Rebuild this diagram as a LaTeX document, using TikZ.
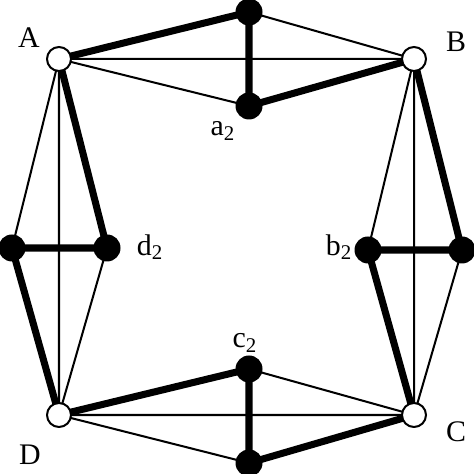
\documentclass[tikz,border=0pt]{standalone}
\usepackage{fontspec}
\setmainfont{Liberation Serif}
\usepackage{tkz-euclide}

\begin{document}
\begin{tikzpicture}[line join=round,
  thickedge/.style={line width=4pt},
  thinedge/.style={line width=1.15pt},
  opendot/.style={line width=1.15pt,fill=white},
  fulldot/.style={fill=black},
  lbl/.style={font=\fontsize{17}{20}\selectfont,inner sep=0pt}]
\tkzInit[xmin=0,xmax=9.48,ymin=0,ymax=9.48]
\tkzClip
\tkzDefPoints{1.18/8.30/A,8.28/8.30/B,8.28/1.18/C,1.18/1.18/D}
\tkzDefPoints{4.98/9.24/a1,4.98/7.36/a2,9.24/4.48/b1,7.36/4.48/b2}
\tkzDefPoints{4.98/0.22/c1,4.98/2.10/c2,0.24/4.52/d1,2.14/4.52/d2}
% thin edges
\draw[thinedge](A)--(B)(A)--(a2)(a1)--(B)
  (B)--(C)(B)--(b2)(b1)--(C)
  (C)--(D)(C)--(c2)(c1)--(D)
  (D)--(A)(D)--(d2)(d1)--(A);
% thick edges
\draw[thickedge](A)--(a1)--(a2)--(B)(B)--(b1)--(b2)--(C)
  (C)--(c1)--(c2)--(D)(D)--(d1)--(d2)--(A);
\draw[opendot](A)circle(0.24)(B)circle(0.24)(C)circle(0.24)(D)circle(0.24);
\fill[fulldot](a1)circle(0.27)(a2)circle(0.27)(b1)circle(0.27)(b2)circle(0.27)
  (c1)circle(0.27)(c2)circle(0.27)(d1)circle(0.27)(d2)circle(0.27);
\node[lbl](lA) at (0.58,8.72){A};
\node[lbl](lB) at (9.12,8.64){B};
\node[lbl](lC) at (9.12,0.84){C};
\node[lbl](lD) at (0.60,0.38){D};
\node[lbl](la2) at (4.46,6.86){a\textsubscript{2}};
\node[lbl](lb2) at (6.78,4.54){b\textsubscript{2}};
\node[lbl](lc2) at (4.90,2.62){c\textsubscript{2}};
\node[lbl](ld2) at (3.00,4.54){d\textsubscript{2}};
\end{tikzpicture}
\end{document}
